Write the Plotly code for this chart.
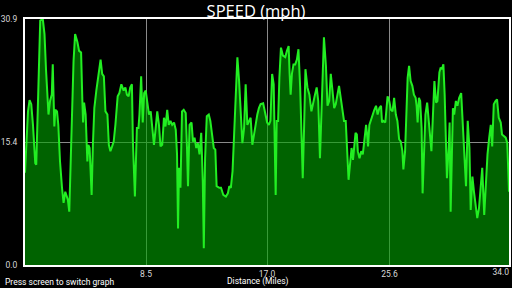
import plotly.graph_objects as go

distance = [
    0.00, 0.21, 0.32, 0.44, 0.56, 0.67, 0.72, 0.79, 0.86, 0.95, 1.07, 1.25, 1.37, 1.48, 1.65, 1.76,
    1.88, 1.95, 2.02, 2.06, 2.13, 2.25, 2.34, 2.46, 2.60, 2.71, 2.83, 2.92, 3.01, 3.11, 3.17, 3.29,
    3.41, 3.52, 3.68, 3.80, 3.94, 4.03, 4.08, 4.15, 4.26, 4.38, 4.45, 4.54, 4.64, 4.68, 4.77, 4.87,
    5.01, 5.19, 5.31, 5.42, 5.54, 5.65, 5.79, 5.89, 6.00, 6.12, 6.23, 6.35, 6.51, 6.63, 6.77, 6.93,
    7.05, 7.16, 7.28, 7.39,
    7.51, 7.58, 7.72, 7.86, 7.97, 8.04, 8.16, 8.27, 8.37, 8.48, 8.60, 8.71, 8.83, 8.95, 9.06, 9.18,
    9.29, 9.41, 9.52, 9.64, 9.76, 9.87, 9.99, 10.10, 10.22, 10.34, 10.47, 10.59, 10.68, 10.75, 10.82,
    10.92, 11.03, 11.15, 11.29, 11.38, 11.45, 11.56, 11.70, 11.80, 11.91, 12.03, 12.14, 12.26, 12.38,
    12.49, 12.56, 12.65, 12.77, 12.91, 13.02, 13.14, 13.26, 13.37, 13.46, 13.65, 13.77, 13.93, 14.11,
    14.25, 14.35, 14.46, 14.58, 14.69, 14.81, 14.92, 15.04, 15.16, 15.27, 15.39, 15.50, 15.62, 15.74,
    15.85,
    15.97, 16.08, 16.20, 16.32, 16.43, 16.55, 16.73, 16.85, 17.01, 17.13, 17.24, 17.36, 17.47, 17.54,
    17.61, 17.68, 17.78, 17.87, 17.98, 18.12, 18.28, 18.40, 18.52, 18.59, 18.66, 18.75, 18.86, 18.98,
    19.10, 19.21, 19.33, 19.44, 19.51, 19.61, 19.70, 19.84, 19.98, 20.12, 20.25, 20.37, 20.49, 20.60,
    20.72, 20.79, 20.88, 21.00, 21.14, 21.25, 21.37, 21.48, 21.60, 21.72, 21.83, 21.95, 22.06, 22.18,
    22.29, 22.41, 22.53, 22.62, 22.73, 22.85, 22.94, 23.04, 23.11, 23.22, 23.31, 23.38, 23.50, 23.62,
    23.73, 23.85, 23.96, 24.03, 24.10, 24.19, 24.31, 24.43, 24.54, 24.66, 24.77,
    24.89, 25.01, 25.08, 25.17, 25.31, 25.40, 25.47, 25.59, 25.70, 25.82, 25.93, 26.05, 26.16, 26.28,
    26.40, 26.51, 26.58, 26.70, 26.79, 26.88, 26.98, 27.09, 27.21, 27.32, 27.44, 27.51, 27.58, 27.67,
    27.76, 27.86, 27.93, 28.02, 28.13, 28.25, 28.37, 28.48, 28.55, 28.64, 28.76, 28.88, 28.97, 29.11,
    29.20, 29.29, 29.39, 29.48, 29.57, 29.64, 29.76, 29.83, 29.90, 29.99, 30.06, 30.15, 30.27, 30.38,
    30.50, 30.64, 30.75, 30.87, 30.98, 31.10, 31.22, 31.31, 31.43, 31.54, 31.66, 31.77, 31.89, 32.00,
    32.12, 32.26, 32.38, 32.49, 32.61, 32.72, 32.82, 32.93, 33.05, 33.16, 33.28, 33.42, 33.51, 33.63,
    33.77, 33.88, 33.95, 34.00,
]

speed = [
    11.6, 19.3, 20.7, 20.2, 17.6, 14.3, 12.8, 12.6, 17.6, 24.0, 30.7, 30.9, 29.0, 24.4, 18.9, 20.6,
    21.4, 25.2, 21.4, 17.4, 19.5, 19.3, 17.6, 13.0, 9.7, 7.8, 9.2, 8.8, 8.2, 6.7, 10.5, 18.9,
    25.6, 29.0, 28.0, 26.9, 26.7, 20.6, 17.9, 20.4, 18.9, 13.0, 15.1, 14.7, 11.3, 8.8, 15.1, 19.7,
    21.9, 24.0, 25.8, 24.0, 23.7, 19.3, 18.9, 15.1, 14.3, 14.9, 15.5, 17.6, 21.2, 21.6, 22.7, 21.9,
    22.3, 21.4, 21.2, 22.3,
    22.7, 15.5, 8.6, 17.2, 17.2, 18.9, 23.7, 17.9, 21.6, 21.9, 20.6, 18.9, 19.3, 17.0, 15.1, 17.2,
    19.3, 17.6, 14.9, 15.1, 18.5, 17.4, 19.5, 17.6, 18.1, 17.6, 17.9, 17.0, 13.9, 4.6, 12.2,
    9.7, 19.3, 19.5, 19.1, 14.7, 9.9, 17.6, 17.9, 15.5, 16.0, 14.7, 15.3, 13.9, 16.6,
    10.5, 2.1, 13.4, 18.7, 18.9, 18.1, 16.4, 14.7, 14.5, 9.9, 9.7, 9.7, 8.8, 8.6,
    9.0, 9.9, 9.7, 11.8, 16.4, 22.3, 26.1, 23.1, 18.9, 15.3, 17.2, 22.7, 17.6, 18.1,
    18.5,
    15.1, 16.4, 17.6, 18.9, 19.7, 20.2, 20.3, 19.1, 17.9, 17.6, 18.1, 24.0, 22.7, 15.5,
    8.8, 18.1, 18.1, 23.5, 27.3, 26.3, 26.1, 26.9, 27.5, 24.0, 21.4, 24.0, 25.2, 25.2,
    25.8, 27.1, 22.3, 15.5, 10.9, 17.6, 24.6, 22.3, 21.4, 19.3, 20.2, 21.4, 22.3, 20.6,
    13.4, 17.6, 23.1, 28.6, 25.0, 20.0, 20.6, 24.0, 21.9, 19.7, 20.2, 21.2, 22.5, 21.0,
    19.7, 18.1, 18.1, 14.7, 10.7, 13.0, 14.7, 13.2, 14.7, 16.6, 16.4, 14.3, 13.4, 14.3,
    13.9, 16.0, 17.6, 16.4, 14.9, 17.6, 18.3, 18.9, 19.5, 20.0, 18.9,
    19.7, 20.0, 17.9, 18.1, 17.9, 20.0, 21.2, 20.6, 19.5, 19.3, 21.0, 18.9, 18.1, 15.8,
    15.5, 14.3, 12.0, 14.3, 18.9, 23.5, 25.0, 23.1, 22.5, 21.4, 21.0, 20.0, 17.9, 21.0,
    20.6, 17.2, 9.0, 14.7, 18.9, 20.4, 17.6, 16.0, 14.3, 18.1, 23.1, 20.4, 20.6, 24.2,
    24.8, 24.6, 25.2, 21.4, 14.7, 10.9, 14.7, 17.9, 6.7, 16.0, 19.7, 18.9, 20.6, 20.0,
    21.0, 21.6, 18.1, 14.3, 9.9, 18.1, 14.7, 6.9, 11.1, 9.2, 7.4, 5.9, 7.1, 9.7,
    12.2, 6.3, 10.5, 13.9, 16.0, 17.6, 14.9, 20.2, 20.6, 20.8, 18.5, 17.9, 16.4, 16.2,
    16.0, 15.3, 9.7, 9.2,
]

y_ticks = [0.0, 15.4, 30.9]
y_tick_labels = ["0.0", "15.4", "30.9"]
x_ticks = [8.5, 17.0, 25.6]
x_tick_labels = ["8.5", "17.0", "25.6"]
x_end_tick = [34.0]
x_end_label = ["34.0"]

FONT = "Open Sans, Noto Sans, DejaVu Sans, sans-serif"
SMALL = "Roboto, Open Sans, sans-serif"

fig = go.Figure()
fig.add_trace(go.Scatter(
    x=distance, y=speed, mode="lines", fill="tozeroy",
    fillcolor="rgba(0,165,0,0.6)",
    line=dict(color="#22ee22", width=2),
    hoverinfo="skip", showlegend=False,
))
fig.add_trace(go.Scatter(
    x=[distance[0], distance[-1]], y=[0, 0], mode="lines", xaxis="x2",
    line=dict(width=0), hoverinfo="skip", showlegend=False,
))

fig.update_layout(
    width=512, height=288,
    margin=dict(l=22, r=1, t=19, b=23),
    paper_bgcolor="black", plot_bgcolor="black",
    font=dict(family=FONT, color="white"),
    title=dict(text="SPEED (mph)", x=0.5, xanchor="center",
               yref="container", y=1 - 11.5 / 288, yanchor="middle",
               font=dict(size=16.5, color="white", family=FONT)),
    xaxis=dict(
        range=[0, 34.0], tickvals=x_ticks, ticktext=x_tick_labels,
        showgrid=True, gridcolor="#8a8a8a", gridwidth=1, zeroline=False,
        showline=True, linecolor="white", linewidth=2, mirror=True,
        ticks="", tickfont=dict(size=8.5, color="#d8d8d8", family=SMALL), ticklabelstandoff=0,
    ),
    xaxis2=dict(
        overlaying="x", matches="x", anchor="y", side="bottom",
        range=[0, 34.0], tickvals=x_end_tick, ticktext=x_end_label,
        ticklabelposition="outside left", ticklabelstandoff=0,
        showgrid=False, zeroline=False, showline=False, ticks="",
        tickfont=dict(size=8.5, color="#d8d8d8", family=SMALL),
    ),
    yaxis=dict(
        range=[0, 30.9], tickvals=y_ticks, ticktext=y_tick_labels,
        showgrid=True, gridcolor="#8a8a8a", gridwidth=1, zeroline=False,
        showline=True, linecolor="white", linewidth=2, mirror=True,
        ticks="", tickfont=dict(size=8.5, color="#d8d8d8", family=SMALL), ticklabelstandoff=4,
    ),
    annotations=[
        dict(
            text="Press screen to switch graph", xref="paper", yref="paper",
            x=-21 / 489, y=-23 / 246, xanchor="left", yanchor="bottom", borderpad=0,
            showarrow=False, font=dict(size=8.5, color="white", family=SMALL),
        ),
        dict(
            text="Distance (Miles)", xref="paper", yref="paper",
            x=(257 - 22) / 489, y=-23 / 246, xanchor="center", yanchor="bottom", borderpad=0,
            showarrow=False, font=dict(size=8.5, color="white", family=SMALL),
        ),
    ],
)

fig.write_html("out.html")
